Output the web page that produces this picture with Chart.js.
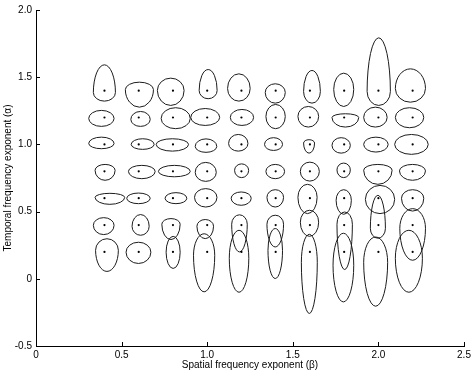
<!DOCTYPE html>
<html><head><meta charset="utf-8">
<script src="https://cdn.jsdelivr.net/npm/chart.js@4.4.1/dist/chart.umd.min.js"></script>
<style>html,body{margin:0;padding:0;background:#fff;}canvas{display:block;}</style>
</head><body>
<canvas id="c" width="474" height="372"></canvas>
<script>
// Grid of estimated (beta, alpha) pairs
const betaValues = [0.4, 0.6, 0.8, 1.0, 1.2, 1.4, 1.6, 1.8, 2.0, 2.2];
const alphaValues = [1.4, 1.2, 1.0, 0.8, 0.6, 0.4, 0.2];
const xTickValues = [0, 0.5, 1, 1.5, 2, 2.5];
const yTickValues = [-0.5, 0, 0.5, 1, 1.5, 2];
const xTitle = 'Spatial frequency exponent (\u03B2)';
const yTitle = 'Temporal frequency exponent (\u03B1)';

// Contour extents (data units), rows follow alphaValues, columns follow betaValues
const betaMin = [
  [0.335,0.522,0.709,0.953,1.119,1.339,1.563,1.739,1.934,2.099],
  [0.308,0.554,0.731,0.904,1.135,1.343,1.530,1.729,1.914,2.099],
  [0.308,0.556,0.702,0.930,1.125,1.335,1.563,1.729,1.914,2.095],
  [0.345,0.540,0.715,0.930,1.160,1.343,1.544,1.758,1.914,2.123],
  [0.345,0.530,0.754,0.926,1.140,1.349,1.530,1.753,1.924,2.135],
  [0.335,0.561,0.735,0.940,1.143,1.349,1.544,1.758,1.953,2.125],
  [0.348,0.526,0.760,0.920,1.129,1.355,1.550,1.735,1.914,2.099]
];
const betaMax = [
  [0.464,0.686,0.865,1.058,1.251,1.456,1.661,1.856,2.070,2.275],
  [0.456,0.667,0.901,1.073,1.271,1.456,1.651,1.885,2.051,2.265],
  [0.456,0.690,0.891,1.056,1.238,1.440,1.627,1.836,2.057,2.291],
  [0.462,0.696,0.901,1.053,1.242,1.452,1.655,1.836,2.080,2.275],
  [0.518,0.667,0.881,1.057,1.257,1.446,1.642,1.842,2.095,2.265],
  [0.456,0.661,0.842,1.037,1.234,1.446,1.651,1.848,2.041,2.275],
  [0.481,0.671,0.842,1.044,1.243,1.440,1.643,1.856,2.054,2.257]
];
const alphaMin = [
  [1.322,1.277,1.290,1.340,1.322,1.307,1.307,1.282,1.290,1.314],
  [1.134,1.134,1.117,1.141,1.141,1.117,1.129,1.129,1.129,1.124],
  [0.968,0.963,0.950,0.941,0.950,0.955,0.935,0.935,0.943,0.926],
  [0.733,0.745,0.759,0.725,0.753,0.745,0.727,0.753,0.703,0.733],
  [0.554,0.559,0.559,0.534,0.547,0.534,0.485,0.480,0.485,0.504],
  [0.329,0.324,0.292,0.299,0.200,0.237,0.316,0.069,0.302,0.138],
  [0.055,0.114,0.077,-0.097,-0.100,0.002,-0.258,-0.172,-0.204,-0.100]
];
const alphaMax = [
  [1.592,1.463,1.493,1.557,1.525,1.451,1.550,1.530,1.793,1.562],
  [1.253,1.245,1.273,1.267,1.260,1.297,1.282,1.228,1.277,1.273],
  [1.054,1.042,1.042,1.041,1.074,1.050,1.035,1.050,1.054,1.074],
  [0.851,0.844,0.844,0.866,0.855,0.851,0.868,0.861,0.851,0.851],
  [0.636,0.638,0.641,0.671,0.646,0.663,0.703,0.663,0.695,0.663],
  [0.455,0.478,0.448,0.441,0.476,0.473,0.510,0.497,0.621,0.522],
  [0.298,0.272,0.316,0.335,0.361,0.374,0.331,0.339,0.311,0.361]
];
// alpha level where each contour is widest
const alphaWidest = [
  [1.386,1.408,1.401,1.401,1.416,1.386,1.394,1.409,1.394,1.416],
  [1.193,1.186,1.193,1.201,1.201,1.208,1.208,1.200,1.201,1.201],
  [1.007,1.000,1.000,0.985,1.007,1.000,1.010,0.993,1.000,1.000],
  [0.807,0.799,0.799,0.792,0.807,0.799,0.799,0.810,0.808,0.803],
  [0.606,0.599,0.599,0.606,0.599,0.606,0.606,0.584,0.591,0.599],
  [0.398,0.391,0.406,0.391,0.406,0.406,0.421,0.406,0.376,0.376],
  [0.212,0.198,0.198,0.175,0.153,0.212,0.123,0.101,0.123,0.153]
];

const centers = [];
alphaValues.forEach(a => betaValues.forEach(b => centers.push({x: b, y: a})));

const FONT = 'Liberation Sans, Arial, Helvetica, sans-serif';

const contourPlugin = {
  id: 'contours',
  beforeDatasetsDraw(chart) {
    const {ctx, scales: {x, y}} = chart;
    ctx.save();
    ctx.strokeStyle = '#1c1c1c';
    ctx.lineWidth = 1;
    for (let r = 0; r < alphaValues.length; r++) {
      for (let c = 0; c < betaValues.length; c++) {
        const left = x.getPixelForValue(betaMin[r][c]);
        const right = x.getPixelForValue(betaMax[r][c]);
        const top = y.getPixelForValue(alphaMax[r][c]);
        const bottom = y.getPixelForValue(alphaMin[r][c]);
        const waist = y.getPixelForValue(alphaWidest[r][c]);
        const cx = (left + right) / 2, rx = (right - left) / 2;
        ctx.beginPath();
        ctx.ellipse(cx, waist, rx, Math.max(waist - top, 0.5), 0, Math.PI, 2 * Math.PI);
        ctx.ellipse(cx, waist, rx, Math.max(bottom - waist, 0.5), 0, 0, Math.PI);
        ctx.closePath();
        ctx.stroke();
      }
    }
    ctx.restore();
  }
};

const tickPlugin = {
  id: 'inwardTicks',
  afterDraw(chart) {
    const {ctx, scales: {x, y}, chartArea} = chart;
    ctx.save();
    ctx.strokeStyle = '#000';
    ctx.lineWidth = 1;
    ctx.beginPath();
    xTickValues.forEach(v => {
      const px = Math.round(x.getPixelForValue(v)) + 0.5;
      ctx.moveTo(px, chartArea.bottom);
      ctx.lineTo(px, chartArea.bottom - 4);
    });
    yTickValues.forEach(v => {
      const py = Math.round(y.getPixelForValue(v)) + 0.5;
      ctx.moveTo(chartArea.left, py);
      ctx.lineTo(chartArea.left + 4, py);
    });
    ctx.stroke();
    ctx.restore();
  }
};

new Chart(document.getElementById('c'), {
  type: 'scatter',
  data: {
    datasets: [{
      data: centers,
      pointRadius: 1.1,
      pointHoverRadius: 1.1,
      backgroundColor: '#000',
      borderColor: '#000',
      borderWidth: 0
    }]
  },
  options: {
    responsive: false,
    animation: false,
    events: [],
    layout: {padding: {top: 9, right: 10, left: 0, bottom: 0}},
    plugins: {legend: {display: false}, tooltip: {enabled: false}},
    scales: {
      x: {
        type: 'linear', min: 0, max: 2.5,
        afterBuildTicks: s => { s.ticks = xTickValues.map(v => ({value: v})); },
        afterFit: s => { s.height = 26; },
        grid: {display: false, drawTicks: false},
        border: {display: true, color: '#000', width: 1},
        ticks: {color: '#000', font: {family: FONT, size: 10}, padding: 3, maxRotation: 0, autoSkip: false},
        title: {display: true, text: xTitle, color: '#000', font: {family: FONT, size: 10}, padding: {top: 0, bottom: 1}}
      },
      y: {
        type: 'linear', min: -0.5, max: 2,
        afterBuildTicks: s => { s.ticks = yTickValues.map(v => ({value: v})); },
        afterFit: s => { s.width = 36; },
        grid: {display: false, drawTicks: false},
        border: {display: true, color: '#000', width: 1},
        ticks: {color: '#000', font: {family: FONT, size: 10}, padding: 4, autoSkip: false},
        title: {display: true, text: yTitle, color: '#000', font: {family: FONT, size: 10}, padding: {top: 2, bottom: 0}}
      }
    }
  },
  plugins: [contourPlugin, tickPlugin]
});
</script>
</body></html>
